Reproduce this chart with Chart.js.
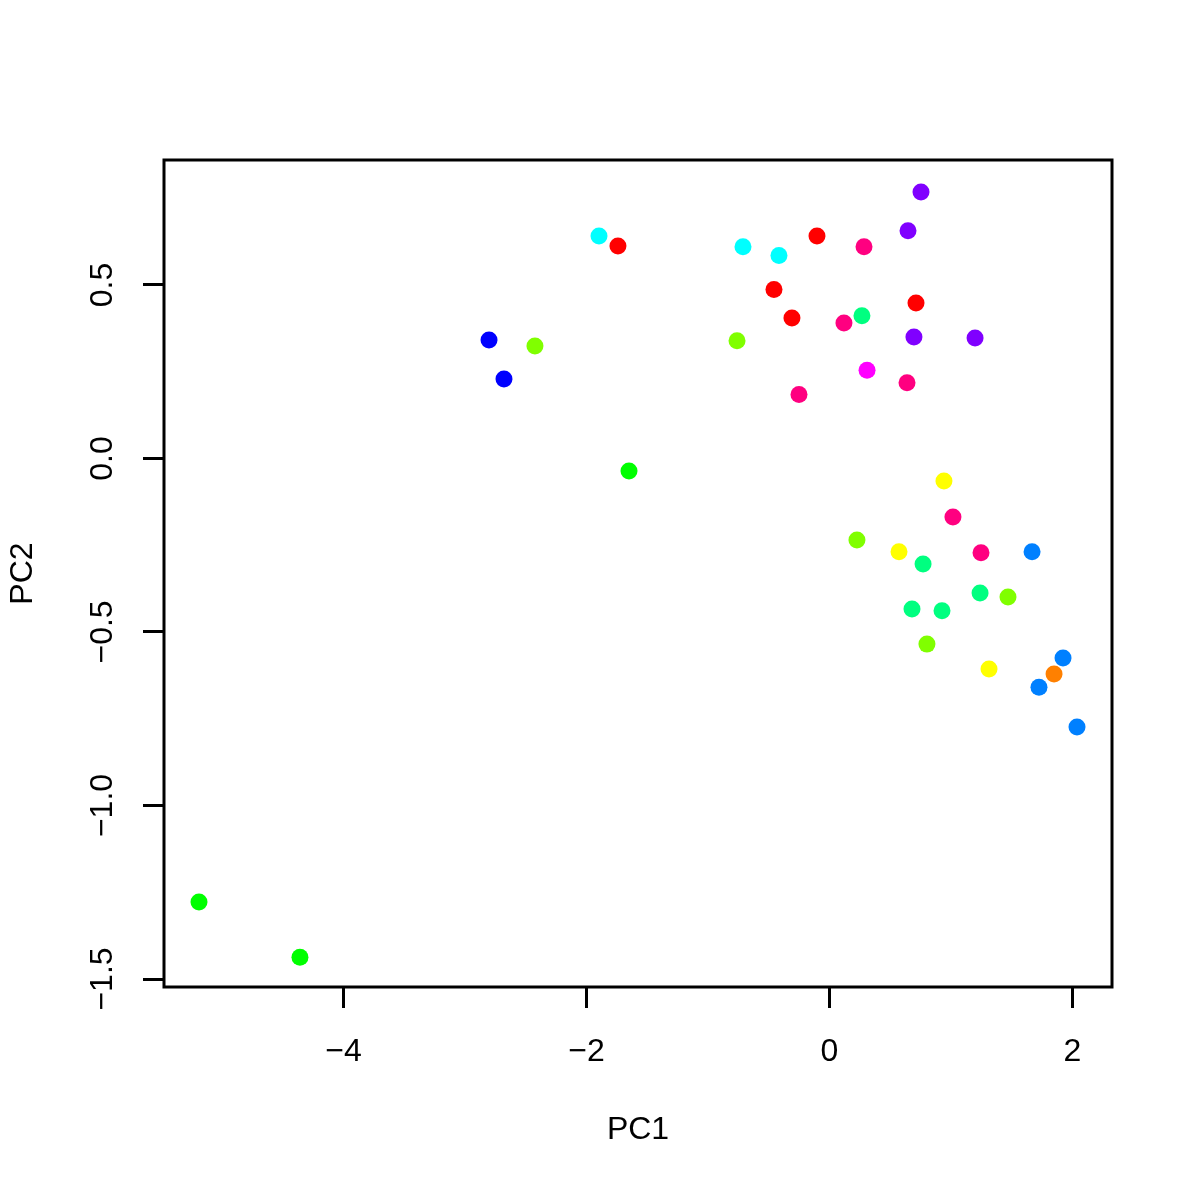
<!DOCTYPE html>
<html>
<head>
<meta charset="utf-8">
<script src="https://cdn.jsdelivr.net/npm/chart.js@4"></script>
<style>
  html, body { margin: 0; padding: 0; background: #fff; }
</style>
</head>
<body>
<canvas id="pcaChart" width="1195" height="1192"></canvas>
<script>
// Valores (PC1, PC2) y grupo de color de cada punto
const pc1 = [-5.189, -4.358, -2.802, -2.679, -2.424, -1.897, -1.741, -1.650, -0.761, -0.712,
             -0.416, -0.457, -0.309, -0.103, -0.251, 0.119, 0.267, 0.284, 0.309, 0.646,
             0.753, 0.712, 0.695, 0.638, 1.198, 0.942, 1.016, 0.226, 0.572, 0.770,
             1.247, 1.667, 0.679, 0.926, 1.239, 1.469, 0.802, 1.313, 1.922, 1.848,
             1.724, 2.037];
const pc2 = [-1.278, -1.437, 0.341, 0.229, 0.324, 0.641, 0.612, -0.036, 0.339, 0.610,
             0.585, 0.487, 0.405, 0.641, 0.184, 0.390, 0.411, 0.610, 0.254, 0.656,
             0.768, 0.448, 0.350, 0.218, 0.347, -0.065, -0.169, -0.235, -0.269, -0.304,
             -0.272, -0.269, -0.434, -0.439, -0.388, -0.399, -0.535, -0.607, -0.575, -0.621,
             -0.659, -0.774];
const pointGroup = [4, 4, 8, 8, 3, 6, 0, 4, 3, 6,
                    6, 0, 0, 0, 11, 11, 5, 11, 10, 9,
                    9, 0, 9, 11, 9, 2, 11, 3, 2, 5,
                    11, 7, 5, 5, 5, 3, 3, 2, 7, 1,
                    7, 7];
// Paleta tipo rainbow(12) de R
const palette = ['#FF0000', '#FF8000', '#FFFF00', '#80FF00', '#00FF00', '#00FF80',
                 '#00FFFF', '#0080FF', '#0000FF', '#8000FF', '#FF00FF', '#FF0080'];

const xTicks = [-4, -2, 0, 2];
const yTicks = [-1.5, -1.0, -0.5, 0.0, 0.5];
const xRange = [-5.477, 2.325];
const yRange = [-1.523, 0.860];

const fmt = v => String(v).replace('-', '\u2212');
const labelFont = { family: 'Liberation Sans', size: 32 };

// Caja alrededor del área del gráfico (como box() en R)
const boxPlugin = {
    id: 'box',
    afterDraw(chart) {
        const {ctx, chartArea: a} = chart;
        ctx.save();
        ctx.strokeStyle = '#000';
        ctx.lineWidth = 3;
        ctx.strokeRect(a.left, a.top, a.right - a.left, a.bottom - a.top);
        ctx.restore();
    }
};

const ctx = document.getElementById('pcaChart').getContext('2d');
const pcaChart = new Chart(ctx, {
    type: 'scatter',
    data: {
        datasets: [{
            data: pc1.map((x, i) => ({x: x, y: pc2[i]})),
            pointBackgroundColor: pointGroup.map(g => palette[g]),
            pointBorderWidth: 0,
            pointRadius: 8.5,
            pointHoverRadius: 8.5
        }]
    },
    options: {
        responsive: false,
        animation: false,
        devicePixelRatio: 1,
        layout: { padding: { top: 160, right: 83, left: 0, bottom: 0 } },
        plugins: {
            legend: { display: false },
            tooltip: { enabled: false }
        },
        scales: {
            x: {
                type: 'linear',
                min: xRange[0],
                max: xRange[1],
                afterBuildTicks: s => { s.ticks = xTicks.map(v => ({value: v})); },
                afterFit: s => { s.height = 205; },
                border: { display: false },
                grid: { drawOnChartArea: false, drawTicks: true, tickLength: 21, color: '#000', lineWidth: 3 },
                ticks: {
                    color: '#000',
                    font: labelFont,
                    padding: 25,
                    maxRotation: 0,
                    callback: v => fmt(v)
                },
                title: {
                    display: true,
                    text: 'PC1',
                    color: '#000',
                    font: labelFont,
                    padding: { top: 0, bottom: 43 }
                }
            },
            y: {
                type: 'linear',
                min: yRange[0],
                max: yRange[1],
                afterBuildTicks: s => { s.ticks = yTicks.map(v => ({value: v})); },
                afterFit: s => { s.width = 164; },
                border: { display: false },
                grid: { drawOnChartArea: false, drawTicks: true, tickLength: 21, color: '#000', lineWidth: 3 },
                ticks: {
                    color: '#000',
                    font: labelFont,
                    padding: 8,
                    minRotation: 90,
                    maxRotation: 90,
                    crossAlign: 'center',
                    callback: v => fmt(v.toFixed(1))
                },
                title: {
                    display: true,
                    text: 'PC2',
                    color: '#000',
                    font: labelFont,
                    padding: { top: 4, bottom: 0 }
                }
            }
        }
    },
    plugins: [boxPlugin]
});
</script>
</body>
</html>
